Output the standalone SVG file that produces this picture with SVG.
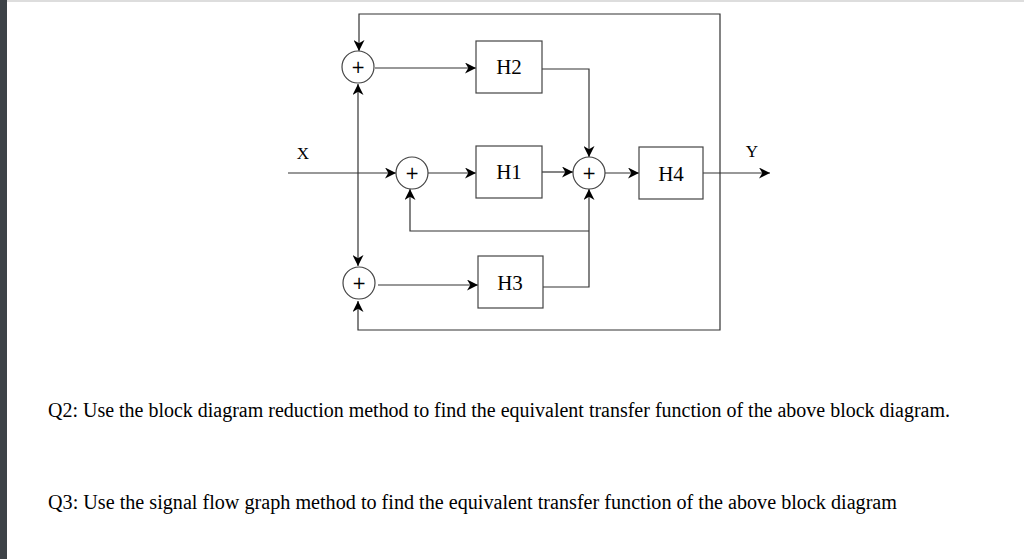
<svg xmlns="http://www.w3.org/2000/svg" width="1024" height="559" viewBox="0 0 1024 559">
<defs>
<style>
.l{fill:none;stroke:#333;stroke-width:1.2}
.b{fill:#fff;stroke:#444;stroke-width:1.2}
.t{font-family:"Liberation Serif",serif;fill:#000}
.p{font-family:"DejaVu Sans",sans-serif;fill:#000;font-size:17px}
</style>
<marker id="a" viewBox="0 0 10 10" refX="10" refY="5" markerWidth="11" markerHeight="11" markerUnits="userSpaceOnUse" orient="auto"><path d="M0,0L10,5L0,10L3,5z" fill="#000"/></marker>
</defs>
<rect width="1024" height="559" fill="#fff"/>
<rect x="0" y="0" width="7" height="559" fill="#3d4247"/>
<rect x="7" y="0" width="1017" height="2" fill="#ddd"/>
<g id="connectors">
<path class="l" d="M720,173V14H359V51" marker-end="url(#a)"/>
<path class="l" d="M720,173V330H358V301" marker-end="url(#a)"/>
<path class="l" d="M358,173V84" marker-end="url(#a)"/>
<path class="l" d="M358,173V266" marker-end="url(#a)"/>
<path class="l" d="M288,173H396" marker-end="url(#a)"/>
<path class="l" d="M375,68H476" marker-end="url(#a)"/>
<path class="l" d="M378,285H478" marker-end="url(#a)"/>
<path class="l" d="M428,173H476" marker-end="url(#a)"/>
<path class="l" d="M542,69H589V157" marker-end="url(#a)"/>
<path class="l" d="M542,172H573" marker-end="url(#a)"/>
<path class="l" d="M605,173H639" marker-end="url(#a)"/>
<path class="l" d="M703,173H770" marker-end="url(#a)"/>
<path class="l" d="M543,287H589V189" marker-end="url(#a)"/>
<path class="l" d="M589,231H410V189" marker-end="url(#a)"/>
</g>
<g id="s1"><circle class="b" cx="358" cy="67" r="16"/><text class="p" x="358" y="73" text-anchor="middle">+</text></g>
<g id="s2"><circle class="b" cx="412" cy="173" r="16"/><text class="p" x="412" y="179" text-anchor="middle">+</text></g>
<g id="s3"><circle class="b" cx="359" cy="283" r="16"/><text class="p" x="359" y="289" text-anchor="middle">+</text></g>
<g id="s4"><circle class="b" cx="589" cy="173" r="16"/><text class="p" x="589" y="179" text-anchor="middle">+</text></g>
<g id="H2"><rect class="b" x="476" y="41" width="66" height="52"/><text class="t" x="509" y="74" font-size="21" text-anchor="middle">H2</text></g>
<g id="H1"><rect class="b" x="476" y="146" width="66" height="52"/><text class="t" x="509" y="179" font-size="21" text-anchor="middle">H1</text></g>
<g id="H3"><rect class="b" x="478" y="256" width="65" height="52"/><text class="t" x="510" y="290" font-size="21" text-anchor="middle">H3</text></g>
<g id="H4"><rect class="b" x="639" y="147" width="64" height="52"/><text class="t" x="671" y="181" font-size="21" text-anchor="middle">H4</text></g>
<text class="t" x="303" y="159" font-size="17" text-anchor="middle">X</text>
<text class="t" x="752" y="157" font-size="17" text-anchor="middle">Y</text>
<text class="t" x="48" y="417" font-size="20" textLength="902" lengthAdjust="spacingAndGlyphs">Q2: Use the block diagram reduction method to find the equivalent transfer function of the above block diagram.</text>
<text class="t" x="48" y="509" font-size="20" textLength="849" lengthAdjust="spacingAndGlyphs">Q3:  Use the signal flow graph method to find the equivalent transfer function of the above block diagram</text>
</svg>
